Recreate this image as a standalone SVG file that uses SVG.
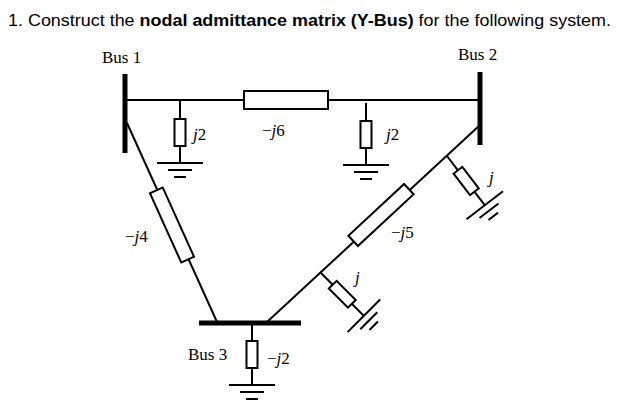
<svg xmlns="http://www.w3.org/2000/svg" width="619" height="417" viewBox="0 0 619 417">
<style>
.w{stroke:#000;stroke-width:2;fill:none}
.r{stroke:#000;stroke-width:2;fill:#fff}
.bus{stroke:#000;stroke-width:5}
.lb{font-family:"Liberation Serif",serif;font-size:17px}
.it{font-style:italic}
</style>
<defs>
<g id="sh">
<line class="w" x1="0" y1="0" x2="0" y2="18"/>
<rect class="r" x="-5.5" y="18" width="11" height="27"/>
<line class="w" x1="0" y1="45" x2="0" y2="62"/>
<line class="w" x1="-23" y1="62" x2="23" y2="62"/>
<line class="w" x1="-12" y1="69" x2="12" y2="69"/>
<line class="w" x1="-6" y1="76" x2="6" y2="76"/>
</g>
</defs>
<rect width="619" height="417" fill="#fff"/>
<text x="8" y="26" font-family="Liberation Sans,sans-serif" font-size="17" textLength="603" lengthAdjust="spacingAndGlyphs">1.  Construct the <tspan font-weight="bold">nodal admittance matrix (Y-Bus)</tspan> for the following system.</text>
<g id="connectors">
<line class="w" x1="125" y1="100" x2="480" y2="100"/>
<line class="w" x1="127" y1="123" x2="217" y2="322"/>
<line class="w" x1="480" y1="125" x2="267" y2="322"/>
</g>
<g id="bus1"><line class="bus" x1="125" y1="74" x2="125" y2="153"/><text class="lb" x="102" y="63">Bus 1</text></g>
<g id="bus2"><line class="bus" x1="480" y1="72" x2="480" y2="145"/><text class="lb" x="458" y="60">Bus 2</text></g>
<g id="bus3"><line class="bus" x1="199" y1="323" x2="301" y2="323"/><text class="lb" x="188" y="360">Bus 3</text></g>
<g id="z12"><rect class="r" x="244" y="91" width="84" height="18"/><text class="lb" x="262" y="136"><tspan>−</tspan><tspan class="it">j</tspan>6</text></g>
<g id="z13"><rect class="r" x="-7" y="-38" width="14" height="76" transform="translate(172,225) rotate(-24.3)"/><text class="lb" x="125" y="242">−<tspan class="it">j</tspan>4</text></g>
<g id="z23"><rect class="r" x="-7" y="-38" width="14" height="76" transform="translate(381,215) rotate(47.1)"/><text class="lb" x="391" y="238">−<tspan class="it">j</tspan>5</text></g>
<g id="sh1"><use href="#sh" x="180" y="101"/><text class="lb" x="193" y="140"><tspan class="it">j</tspan>2</text></g>
<g id="sh2"><use href="#sh" x="366" y="103"/><text class="lb" x="386" y="140"><tspan class="it">j</tspan>2</text></g>
<g id="sh3"><use href="#sh" x="252" y="323"/><text class="lb" x="267" y="364">−<tspan class="it">j</tspan>2</text></g>
<g id="sh4"><use href="#sh" transform="translate(447,156) rotate(-37.5)"/><text class="lb it" x="489" y="183">j</text></g>
<g id="sh5"><use href="#sh" transform="translate(320,272) rotate(-45)"/><text class="lb it" x="355" y="283">j</text></g>
</svg>
